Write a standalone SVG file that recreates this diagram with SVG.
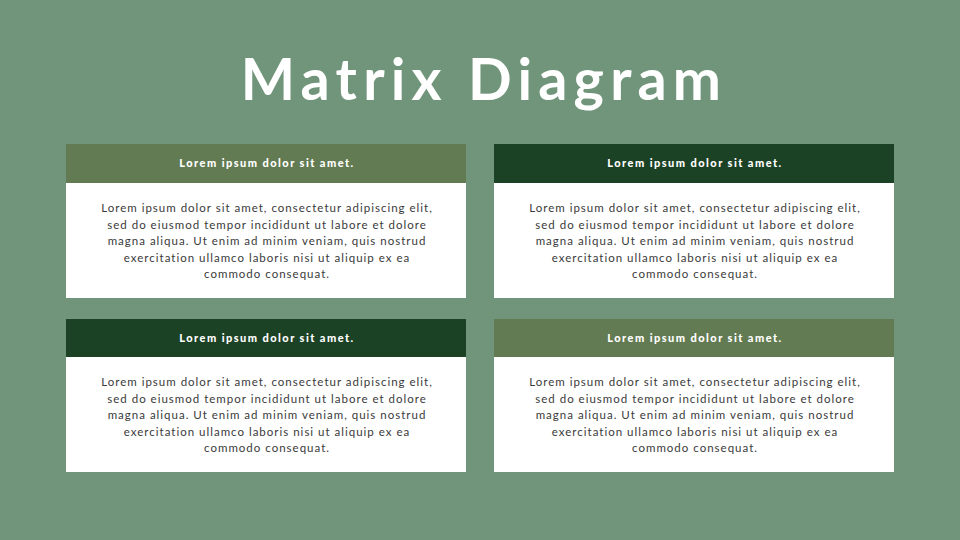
<svg xmlns="http://www.w3.org/2000/svg" width="960" height="540" viewBox="0 0 960 540">
<style>
.bg{fill:#71957a}
.hl{fill:#627b52}
.hd{fill:#1c4226}
.body{fill:#ffffff}
.title{font-family:"Lato","Liberation Sans",sans-serif;font-weight:700;font-size:57.5px;fill:#ffffff;letter-spacing:6.2px}
.ht{font-family:"Lato","Liberation Sans",sans-serif;font-weight:900;font-size:11px;fill:#ffffff;letter-spacing:1.45px}
.bt{font-family:"Lato","Liberation Sans",sans-serif;font-size:11.5px;fill:#3a3a3a;letter-spacing:1px}
</style>
<rect class="bg" x="0" y="0" width="960" height="540"/>
<text class="title" x="484" y="100" text-anchor="middle">Matrix Diagram</text>
<g id="node-tl">
<rect class="hl" x="66" y="144" width="400" height="39"/>
<rect class="body" x="66" y="183" width="400" height="115"/>
<text class="ht" x="267" y="167" text-anchor="middle">Lorem ipsum dolor sit amet.</text>
<text class="bt" text-anchor="middle"><tspan x="267" y="212">Lorem ipsum dolor sit amet, consectetur adipiscing elit,</tspan><tspan x="267" y="228.5">sed do eiusmod tempor incididunt ut labore et dolore</tspan><tspan x="267" y="245">magna aliqua. Ut enim ad minim veniam, quis nostrud</tspan><tspan x="267" y="261.5">exercitation ullamco laboris nisi ut aliquip ex ea</tspan><tspan x="267" y="278">commodo consequat.</tspan></text>
</g>
<g id="node-tr">
<rect class="hd" x="494" y="144" width="400" height="39"/>
<rect class="body" x="494" y="183" width="400" height="115"/>
<text class="ht" x="695" y="167" text-anchor="middle">Lorem ipsum dolor sit amet.</text>
<text class="bt" text-anchor="middle"><tspan x="695" y="212">Lorem ipsum dolor sit amet, consectetur adipiscing elit,</tspan><tspan x="695" y="228.5">sed do eiusmod tempor incididunt ut labore et dolore</tspan><tspan x="695" y="245">magna aliqua. Ut enim ad minim veniam, quis nostrud</tspan><tspan x="695" y="261.5">exercitation ullamco laboris nisi ut aliquip ex ea</tspan><tspan x="695" y="278">commodo consequat.</tspan></text>
</g>
<g id="node-bl">
<rect class="hd" x="66" y="319" width="400" height="38"/>
<rect class="body" x="66" y="357" width="400" height="115"/>
<text class="ht" x="267" y="342" text-anchor="middle">Lorem ipsum dolor sit amet.</text>
<text class="bt" text-anchor="middle"><tspan x="267" y="386">Lorem ipsum dolor sit amet, consectetur adipiscing elit,</tspan><tspan x="267" y="402.5">sed do eiusmod tempor incididunt ut labore et dolore</tspan><tspan x="267" y="419">magna aliqua. Ut enim ad minim veniam, quis nostrud</tspan><tspan x="267" y="435.5">exercitation ullamco laboris nisi ut aliquip ex ea</tspan><tspan x="267" y="452">commodo consequat.</tspan></text>
</g>
<g id="node-br">
<rect class="hl" x="494" y="319" width="400" height="38"/>
<rect class="body" x="494" y="357" width="400" height="115"/>
<text class="ht" x="695" y="342" text-anchor="middle">Lorem ipsum dolor sit amet.</text>
<text class="bt" text-anchor="middle"><tspan x="695" y="386">Lorem ipsum dolor sit amet, consectetur adipiscing elit,</tspan><tspan x="695" y="402.5">sed do eiusmod tempor incididunt ut labore et dolore</tspan><tspan x="695" y="419">magna aliqua. Ut enim ad minim veniam, quis nostrud</tspan><tspan x="695" y="435.5">exercitation ullamco laboris nisi ut aliquip ex ea</tspan><tspan x="695" y="452">commodo consequat.</tspan></text>
</g>
<g id="connectors"></g>
</svg>
